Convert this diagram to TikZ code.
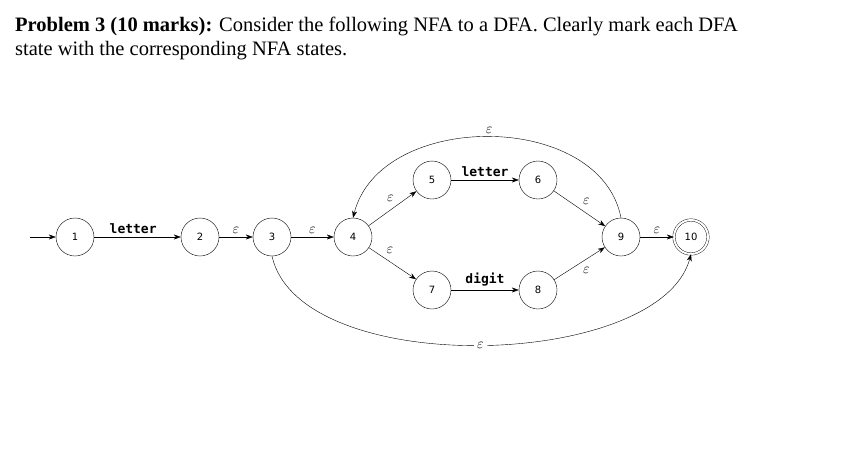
\documentclass[tikz,border=0pt]{standalone}
\usepackage{fontspec}
\setmainfont{Liberation Serif}
\newfontfamily\lbl{DejaVu Sans}
\newfontfamily\mono{DejaVu Sans Mono}
\usetikzlibrary{arrows.meta}
\begin{document}
\begin{tikzpicture}[x=1pt,y=-1pt,
  st/.style={circle,draw,thin,minimum size=38pt,inner sep=0pt,font=\lbl\fontsize{10}{10}\selectfont},
  acc/.style={st,double,double distance=2pt,minimum size=34pt},
  tr/.style={-{Stealth[length=7pt,width=5pt]},thin},
  el/.style={font=\mono\bfseries\fontsize{13}{13}\selectfont},
  ep/.style={font=\fontsize{14}{14}\selectfont}]
\useasboundingbox (0,0) rectangle (866,474);
\node[anchor=north west,font=\fontsize{20.5}{24}\selectfont,align=left,inner sep=0pt] (title) at (15,17)
 {\textbf{Problem 3 (10 marks):} Consider the following NFA to a DFA. Clearly mark each DFA\\state with the corresponding NFA states.};
\node[st] (n1) at (75,237) {1};
\node[st] (n2) at (200,237) {2};
\node[st] (n3) at (272,237) {3};
\node[st] (n4) at (353,237) {4};
\node[st] (n5) at (432,180) {5};
\node[st] (n6) at (538,180) {6};
\node[st] (n7) at (432,290) {7};
\node[st] (n8) at (538,290) {8};
\node[st] (n9) at (621,237) {9};
\node[acc] (n10) at (691,237) {10};
\coordinate (s) at (30,237);
\draw[tr] (s) -- (n1);
\draw[tr] (n1) -- node[el,above,pos=0.45] {letter} (n2);
\draw[tr] (n2) -- node[ep,above] {$\varepsilon$} (n3);
\draw[tr] (n3) -- node[ep,above] {$\varepsilon$} (n4);
\draw[tr] (n4) -- node[ep,above left,pos=0.6] {$\varepsilon$} (n5);
\draw[tr] (n4) -- node[ep,above right,pos=0.3] {$\varepsilon$} (n7);
\draw[tr] (n5) -- node[el,above] {letter} (n6);
\draw[tr] (n7) -- node[el,above] {digit} (n8);
\draw[tr] (n6) -- node[ep,above right] {$\varepsilon$} (n9);
\draw[tr] (n8) -- node[ep,below right] {$\varepsilon$} (n9);
\draw[tr] (n9) -- node[ep,above] {$\varepsilon$} (n10);
\draw[tr] (n9.north) .. controls (600,110) and (380,110) .. node[ep,above,pos=0.5] {$\varepsilon$} (n4.north);
\draw[tr] (n3.south) .. controls (300,380) and (660,370) .. node[ep,pos=0.5,fill=white] {$\varepsilon$} (n10.south);
\end{tikzpicture}
\end{document}
